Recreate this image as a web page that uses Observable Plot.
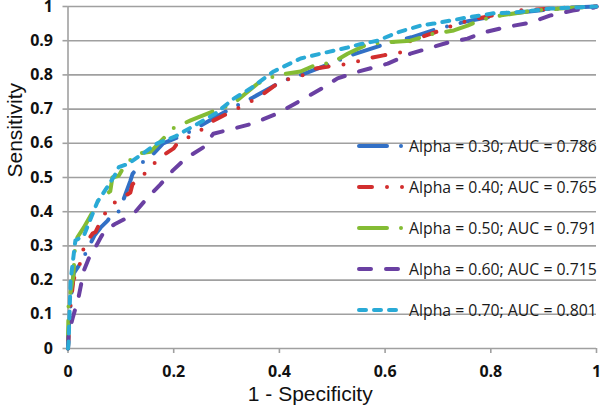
<!DOCTYPE html>
<html><head><meta charset="utf-8">
<script src="https://cdn.jsdelivr.net/npm/d3@7"></script>
<script src="https://cdn.jsdelivr.net/npm/@observablehq/plot@0.6"></script>
<style>body{margin:0;background:#fff}#chart{width:600px;height:408px}</style>
</head><body><div id="chart"></div><script>
// ROC points [1 - specificity, sensitivity] per series
const alpha030 = [[0,0],[0.001,0.05],[0.006,0.15],[0.009,0.2],[0.011,0.22],[0.024,0.25],[0.039,0.296],[0.05,0.33],[0.062,0.354],[0.075,0.374],[0.084,0.395],[0.095,0.398],[0.103,0.427],[0.118,0.49],[0.122,0.51],[0.137,0.54],[0.156,0.56],[0.18,0.6],[0.207,0.617],[0.226,0.63],[0.283,0.68],[0.313,0.705],[0.35,0.734],[0.407,0.783],[0.45,0.805],[0.5,0.835],[0.54,0.86],[0.6,0.89],[0.65,0.91],[0.7,0.935],[0.75,0.955],[0.8,0.97],[0.85,0.982],[0.9,0.99],[0.95,0.997],[1,1]];
const alpha040 = [[0,0],[0.003,0.1],[0.01,0.2],[0.02,0.237],[0.027,0.267],[0.03,0.3],[0.047,0.337],[0.052,0.34],[0.065,0.383],[0.077,0.41],[0.08,0.418],[0.118,0.456],[0.122,0.48],[0.137,0.5],[0.156,0.526],[0.162,0.54],[0.18,0.565],[0.2,0.585],[0.207,0.6],[0.25,0.637],[0.276,0.667],[0.313,0.696],[0.36,0.734],[0.404,0.783],[0.44,0.795],[0.465,0.818],[0.502,0.827],[0.535,0.833],[0.566,0.848],[0.597,0.857],[0.629,0.866],[0.648,0.9],[0.705,0.93],[0.743,0.953],[0.775,0.965],[0.85,0.988],[0.945,0.997],[1,1]];
const alpha050 = [[0,0],[0.001,0.13],[0.01,0.21],[0.014,0.316],[0.03,0.354],[0.047,0.4],[0.056,0.43],[0.08,0.46],[0.084,0.5],[0.096,0.505],[0.109,0.54],[0.133,0.57],[0.156,0.575],[0.2,0.645],[0.232,0.667],[0.264,0.687],[0.313,0.716],[0.359,0.775],[0.396,0.8],[0.44,0.81],[0.47,0.83],[0.5,0.836],[0.529,0.862],[0.567,0.89],[0.6,0.895],[0.648,0.9],[0.69,0.92],[0.73,0.93],[0.756,0.944],[0.78,0.96],[0.82,0.974],[0.88,0.988],[0.93,0.994],[1,1]];
const alpha060 = [[0,0],[0.001,0.043],[0.009,0.09],[0.02,0.15],[0.03,0.228],[0.043,0.277],[0.052,0.296],[0.062,0.325],[0.07,0.345],[0.09,0.365],[0.122,0.39],[0.15,0.44],[0.175,0.48],[0.198,0.52],[0.222,0.555],[0.256,0.588],[0.275,0.628],[0.313,0.643],[0.35,0.658],[0.396,0.687],[0.44,0.725],[0.48,0.76],[0.51,0.79],[0.55,0.81],[0.605,0.833],[0.648,0.862],[0.72,0.895],[0.756,0.906],[0.786,0.924],[0.83,0.94],[0.875,0.953],[0.913,0.974],[0.955,0.988],[0.995,0.997],[1,1]];
const alpha070 = [[0,0],[0.001,0.015],[0.005,0.2],[0.014,0.316],[0.03,0.33],[0.056,0.43],[0.065,0.45],[0.09,0.51],[0.096,0.53],[0.114,0.54],[0.137,0.565],[0.169,0.6],[0.203,0.62],[0.279,0.687],[0.313,0.73],[0.345,0.76],[0.389,0.81],[0.44,0.848],[0.478,0.862],[0.529,0.88],[0.553,0.89],[0.586,0.9],[0.623,0.924],[0.667,0.944],[0.692,0.95],[0.756,0.968],[0.805,0.98],[0.85,0.983],[0.913,0.994],[1,1]];

const seriesNames = ["Alpha = 0.30; AUC = 0.786","Alpha = 0.40; AUC = 0.765","Alpha = 0.50; AUC = 0.791","Alpha = 0.60; AUC = 0.715","Alpha = 0.70; AUC = 0.801"];
const seriesData = [alpha030, alpha040, alpha050, alpha060, alpha070];
const seriesColors = ["#3270c6","#d22e2e","#84bc34","#6a40a2","#2aaad6"];
const seriesDash = ["28,14,0,14","13,15,0,15,0,15","28,14,0,14","12,15","7,8"];

const yTicks = [0,0.1,0.2,0.3,0.4,0.5,0.6,0.7,0.8,0.9,1];
const yTickLabels = ["0","0.1","0.2","0.3","0.4","0.5","0.6","0.7","0.8","0.9","1"];
const xTicks = [0,0.2,0.4,0.6,0.8,1];
const xTickLabels = ["0","0.2","0.4","0.6","0.8","1"];

const grey = "#a0a0a0";
const lineMarks = seriesData.map((pts, i) => Plot.line(pts, {
  x: d => d[0], y: d => d[1], stroke: seriesColors[i], strokeWidth: 4,
  strokeDasharray: seriesDash[i], strokeLinecap: "round", strokeLinejoin: "round"
}));

const plot = Plot.plot({
  width: 600, height: 408,
  marginLeft: 67.5, marginRight: 4, marginTop: 6, marginBottom: 60,
  x: {domain: [0, 1]}, y: {domain: [0, 1]},
  style: {fontFamily: "'Open Sans', sans-serif", background: "#fff", overflow: "visible"},
  marks: [
    Plot.gridY(yTicks, {stroke: grey, strokeOpacity: 1, strokeWidth: 1.6}),
    Plot.ruleX([0], {stroke: grey, strokeWidth: 1.6}),
    Plot.axisY(yTicks, {text: null, tickSize: 5, stroke: grey, strokeWidth: 1.6, label: null}),
    Plot.axisY(yTicks, {tickSize: 5, tickPadding: 10, stroke: "none", fill: "#111", fontSize: 16, fontWeight: "bold",
      tickFormat: d => yTickLabels[yTicks.indexOf(d)], label: null}),
    Plot.axisX(xTicks, {text: null, tickSize: 5, stroke: grey, strokeWidth: 1.6, label: null}),
    Plot.axisX(xTicks, {tickSize: 5, tickPadding: 12, stroke: "none", fill: "#111", fontSize: 16, fontWeight: "bold",
      tickFormat: d => xTickLabels[xTicks.indexOf(d)], label: null}),
    Plot.text(["Sensitivity"], {frameAnchor: "left", rotate: -90, dx: -53, fontSize: 21, fill: "#111",
      lineAnchor: "middle", fontFamily: "'Liberation Sans', Arial, sans-serif"}),
    Plot.text(["1 - Specificity"], {frameAnchor: "bottom", dy: 46, dx: -22, fontSize: 21, fill: "#111",
      lineAnchor: "middle", fontFamily: "'Liberation Sans', Arial, sans-serif"}),
    ...lineMarks
  ]
});

// Legend drawn inside the SVG
const svg = d3.select(plot);
const lg = svg.append("g").attr("text-anchor", "start");
seriesNames.forEach((name, i) => {
  const y = 146 + i * 41;
  lg.append("line").attr("x1", 359).attr("x2", 403).attr("y1", y).attr("y2", y)
    .attr("stroke", seriesColors[i]).attr("stroke-width", 4)
    .attr("stroke-dasharray", seriesDash[i]).attr("stroke-linecap", "round");
  lg.append("text").attr("x", 409).attr("y", y).attr("dy", "0.35em").attr("text-anchor", "start")
    .attr("font-family", "'Open Sans', sans-serif").attr("font-size", 15.8).attr("fill", "#1a1a1a")
    .text(name);
});

document.getElementById("chart").appendChild(plot);
</script></body></html>
